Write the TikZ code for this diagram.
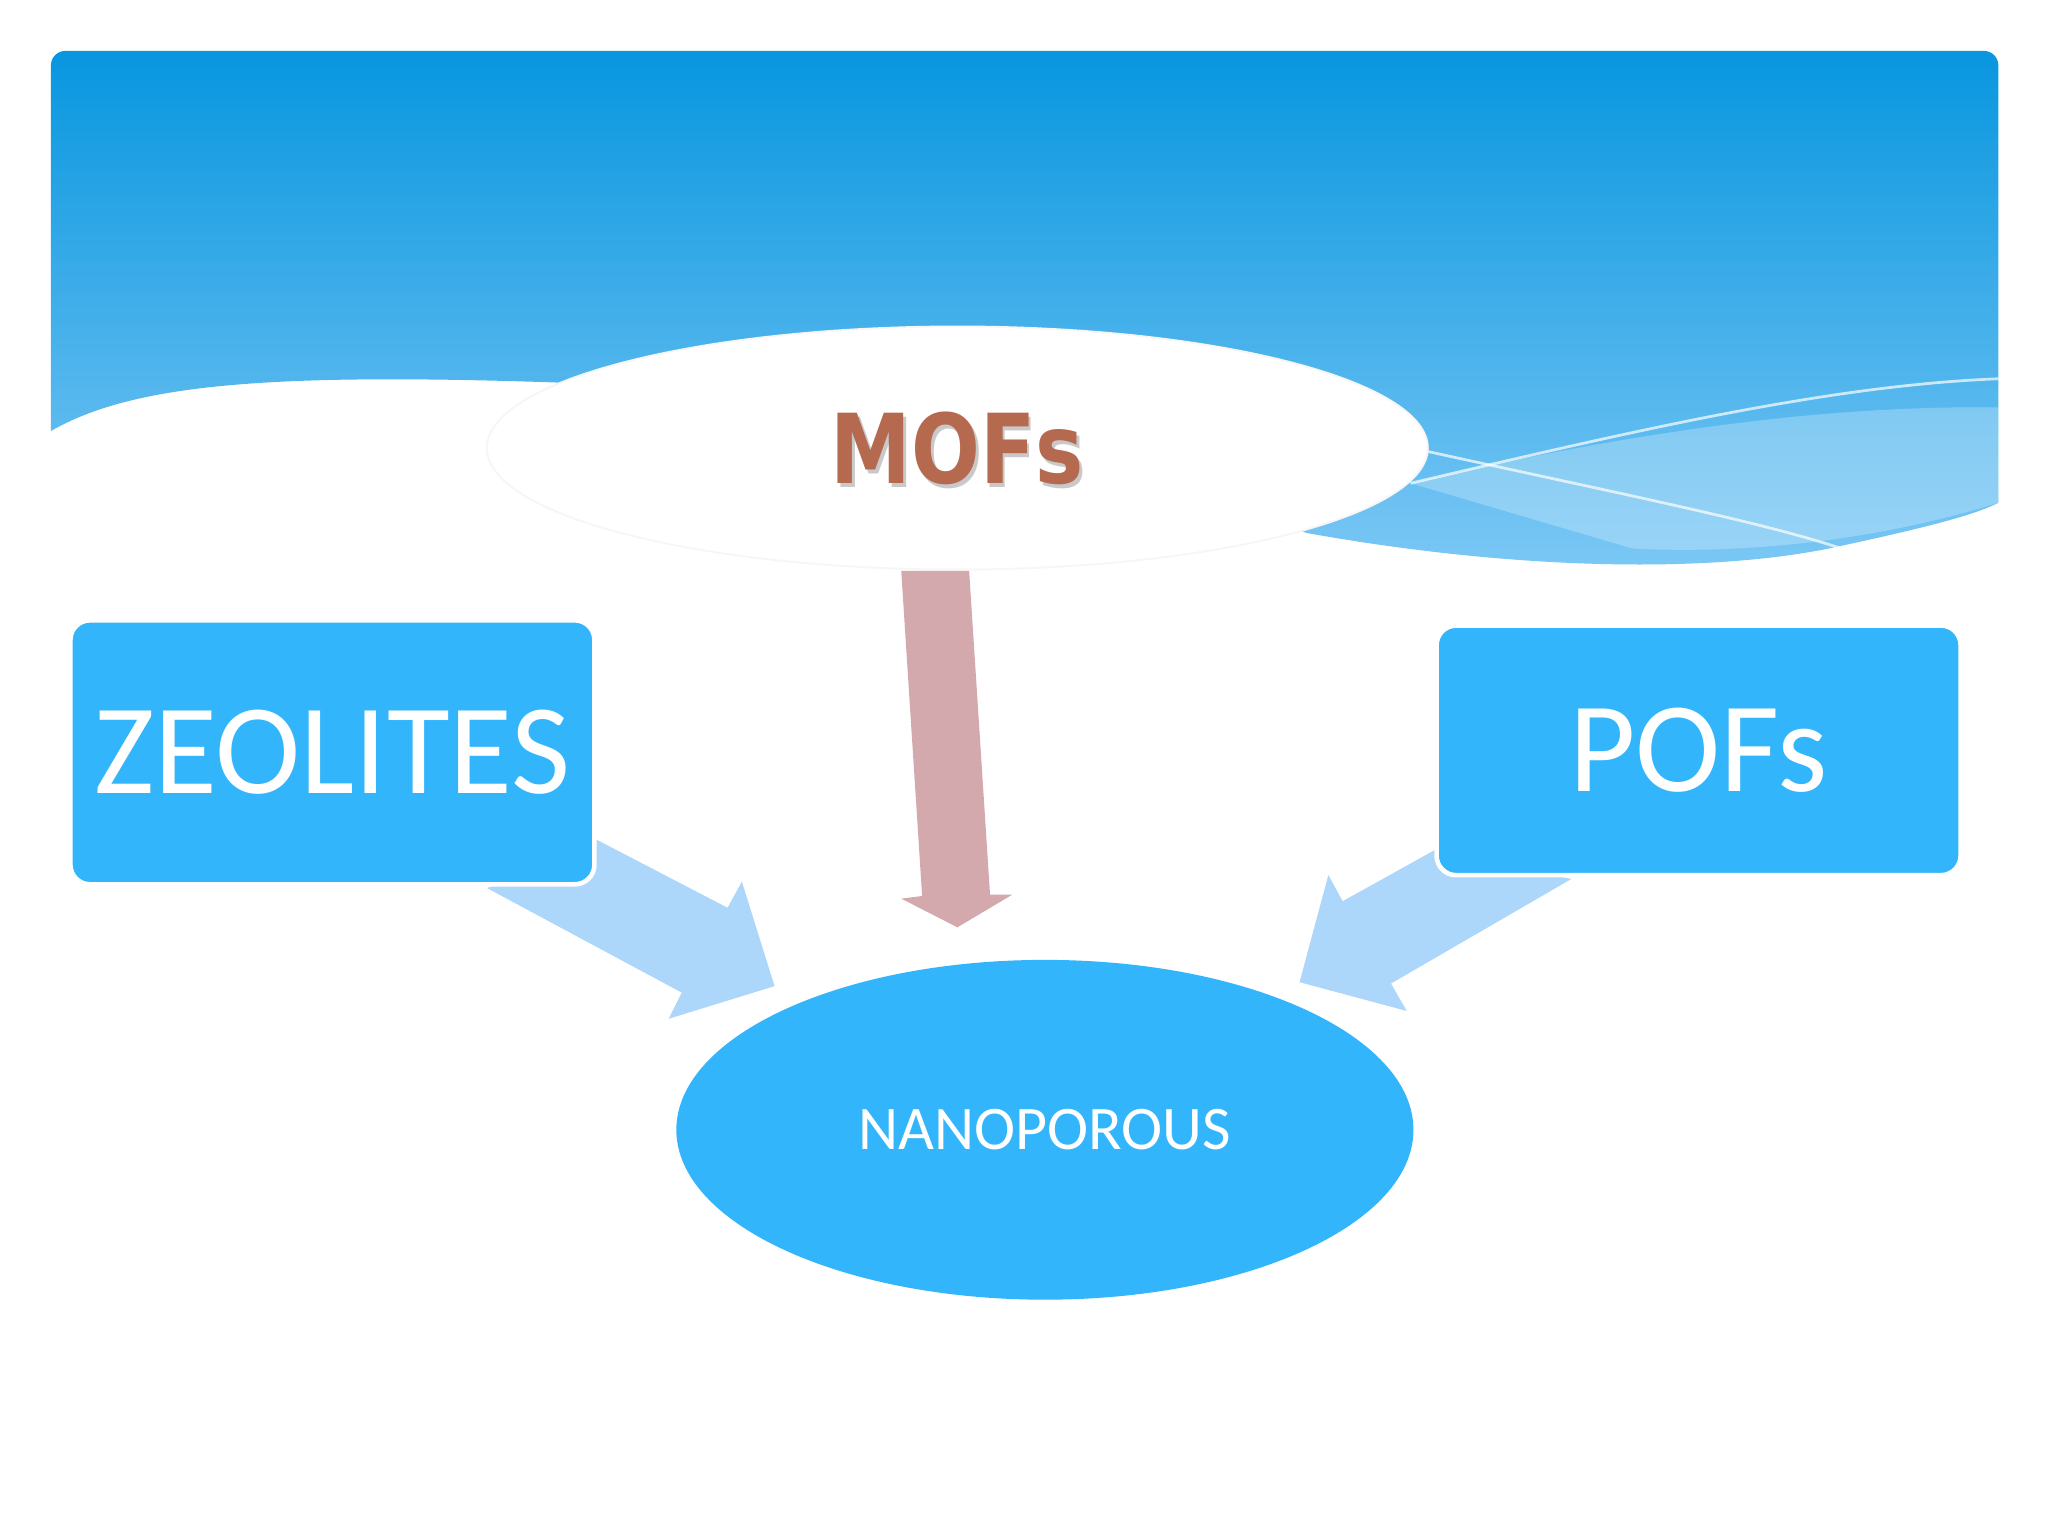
\documentclass[tikz,border=0pt]{standalone}
\usepackage{fontspec}
\setmainfont{Carlito}
\newfontfamily\moffont{DejaVu Sans}
\usetikzlibrary{shapes.geometric}
\definecolor{boxblue}{HTML}{33B5FC}
\definecolor{arrblue}{HTML}{ADD6FB}
\definecolor{arrpink}{HTML}{D4A9AD}
\definecolor{topblue}{HTML}{0896DF}
\definecolor{lowblue}{HTML}{7CC8F5}
\definecolor{mofbrown}{HTML}{B5694F}
\tikzset{
  px/.style={x=0.01cm,y=-0.01cm},
  bluebox/.style={draw=white,line width=1pt,rounded corners=0.15cm,fill=boxblue,text=white,minimum width=4.01cm,inner sep=0pt,font=\fontsize{28}{28}\selectfont},
  moftext/.style={font=\moffont\bfseries\fontsize{21}{21}\selectfont,xscale=0.84},
}
\begin{document}
\begin{tikzpicture}[px]
\useasboundingbox (0,0) rectangle (1568,1176);
\fill[white] (0,0) rectangle (1568,1176);
% header
\shade[top color=topblue,bottom color=lowblue]
  (39,330) .. controls (100,295) and (200,285) .. (430,293) -- (740,300) -- (1000,408)
  .. controls (1150,435) and (1300,440) .. (1400,420) .. controls (1470,405) and (1510,395) .. (1530,385)
  [rounded corners=0.11cm] -- (1530,39) -- (39,39) [sharp corners] -- cycle;
\fill[white,opacity=0.25] (1080,370) .. controls (1250,330) and (1400,310) .. (1530,312) -- (1530,385) .. controls (1450,410) and (1350,425) .. (1250,420) -- cycle;
\draw[white,opacity=0.7,line width=0.6pt] (1090,345) .. controls (1250,380) and (1350,400) .. (1410,420);
\draw[white,opacity=0.7,line width=0.6pt] (1080,370) .. controls (1250,330) and (1400,295) .. (1530,290);
% MOFs ellipse
\node[ellipse,fill=white,draw=white!93!gray,minimum width=7.2cm,minimum height=1.86cm] (mof) at (733,343) {};
\node[moftext,text=black!35,opacity=0.6] (mofs) at (735,346) {MOFs};
\node[moftext,text=mofbrown] (moft) at (733,343) {MOFs};
% arrows
\fill[arrblue] (457,643) -- (557,695) -- (568,675) -- (593,755) -- (512,780) -- (522,760) -- (373,680) -- cycle;
\fill[arrblue] (1100,650) -- (1028,690) -- (1017,670) -- (995,752) -- (1077,774) -- (1065,753) -- (1203,673) -- cycle;
\fill[arrpink] (690,437) -- (742,437) -- (758,685) -- (775,685) -- (733,710) -- (690,688) -- (706,686) -- cycle;
% boxes
\node[bluebox,minimum height=2.02cm] (zeo) at (254.5,576) {ZEOLITES};
\node[bluebox,minimum height=1.91cm] (pof) at (1300.5,574.5) {POFs};
\node[ellipse,fill=boxblue,text=white,minimum width=5.64cm,minimum height=2.6cm,font=\fontsize{13.5}{13.5}\selectfont] (nano) at (800,865) {NANOPOROUS};
\end{tikzpicture}
\end{document}
